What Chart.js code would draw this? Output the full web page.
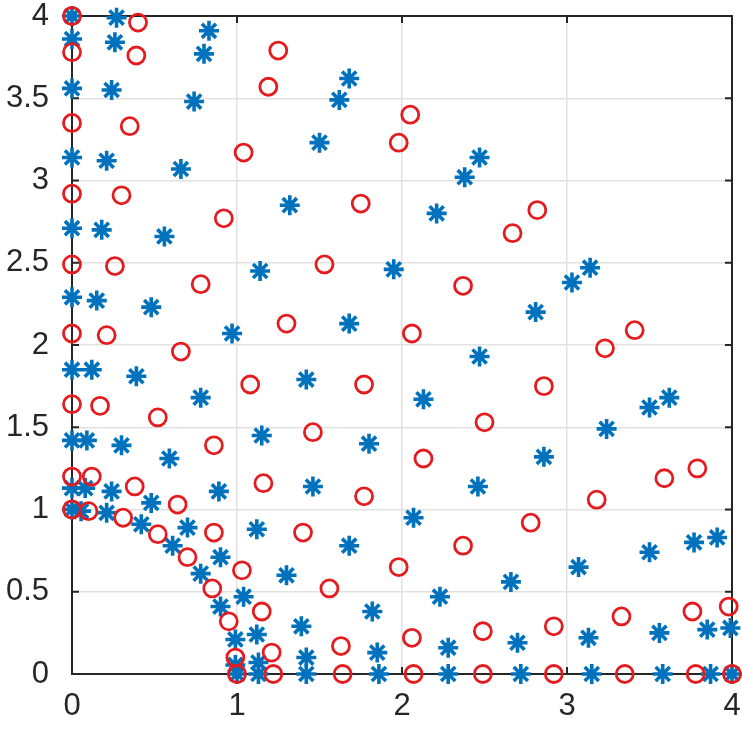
<!DOCTYPE html>
<html>
<head>
<meta charset="utf-8">
<script src="https://cdn.jsdelivr.net/npm/chart.js@4"></script>
<style>
  body { margin: 0; background: #fff; }
  #wrap { width: 742px; height: 732px; }
</style>
</head>
<body>
<div id="wrap"><canvas id="plot" width="742" height="732"></canvas></div>
<script>
// red circles, read ray by ray (9 rays x 9 points)
const circleX = [
    0, 0, 0, 0, 0, 0, 0, 0, 0,
    0.40, 0.39, 0.35, 0.30, 0.26, 0.21, 0.17, 0.12, 0.10,
    1.25, 1.19, 1.04, 0.92, 0.78, 0.66, 0.52, 0.38, 0.31,
    2.05, 1.98, 1.75, 1.53, 1.30, 1.08, 0.86, 0.64, 0.52,
    2.82, 2.67, 2.37, 2.06, 1.77, 1.46, 1.16, 0.86, 0.70,
    3.41, 3.23, 2.86, 2.50, 2.13, 1.77, 1.40, 1.03, 0.85,
    3.79, 3.59, 3.18, 2.78, 2.37, 1.98, 1.56, 1.15, 0.95,
    3.98, 3.76, 3.33, 2.92, 2.49, 2.06, 1.63, 1.21, 0.99,
    4.00, 3.78, 3.35, 2.92, 2.49, 2.07, 1.64, 1.22, 1.00
];
const circleY = [
    4.00, 3.78, 3.35, 2.92, 2.49, 2.07, 1.64, 1.20, 1.00,
    3.96, 3.76, 3.33, 2.91, 2.48, 2.06, 1.63, 1.20, 0.99,
    3.79, 3.57, 3.17, 2.77, 2.37, 1.96, 1.56, 1.14, 0.95,
    3.40, 3.23, 2.86, 2.49, 2.13, 1.76, 1.39, 1.03, 0.85,
    2.82, 2.68, 2.36, 2.07, 1.76, 1.47, 1.16, 0.86, 0.71,
    2.09, 1.98, 1.75, 1.53, 1.31, 1.08, 0.86, 0.63, 0.52,
    1.25, 1.19, 1.06, 0.92, 0.78, 0.65, 0.52, 0.38, 0.32,
    0.41, 0.38, 0.35, 0.29, 0.26, 0.22, 0.17, 0.13, 0.10,
    0, 0, 0, 0, 0, 0, 0, 0, 0
];

// blue stars (10 rays x 10 points)
const starX = [
    0, 0, 0, 0, 0, 0, 0, 0, 0, 0,
    0.27, 0.26, 0.24, 0.21, 0.18, 0.15, 0.12, 0.09, 0.08, 0.055,
    0.83, 0.80, 0.74, 0.66, 0.56, 0.48, 0.39, 0.30, 0.24, 0.21,
    1.68, 1.62, 1.50, 1.32, 1.14, 0.97, 0.78, 0.59, 0.48, 0.42,
    2.47, 2.38, 2.21, 1.95, 1.68, 1.42, 1.15, 0.89, 0.70, 0.61,
    3.14, 3.03, 2.81, 2.47, 2.13, 1.80, 1.46, 1.12, 0.90, 0.78,
    3.62, 3.50, 3.24, 2.86, 2.46, 2.07, 1.68, 1.30, 1.04, 0.90,
    3.91, 3.77, 3.50, 3.07, 2.66, 2.23, 1.82, 1.39, 1.12, 0.99,
    3.99, 3.85, 3.56, 3.13, 2.70, 2.28, 1.85, 1.42, 1.13, 0.99,
    4.00, 3.87, 3.58, 3.15, 2.72, 2.28, 1.86, 1.42, 1.13, 1.00
];
const starY = [
    4.00, 3.86, 3.56, 3.14, 2.71, 2.29, 1.85, 1.42, 1.13, 1.00,
    3.99, 3.84, 3.55, 3.12, 2.70, 2.27, 1.85, 1.42, 1.13, 0.99,
    3.91, 3.77, 3.48, 3.07, 2.66, 2.23, 1.81, 1.39, 1.11, 0.98,
    3.62, 3.49, 3.23, 2.85, 2.45, 2.07, 1.68, 1.31, 1.04, 0.91,
    3.14, 3.02, 2.80, 2.46, 2.13, 1.79, 1.45, 1.11, 0.89, 0.78,
    2.47, 2.38, 2.20, 1.93, 1.67, 1.40, 1.14, 0.88, 0.71, 0.61,
    1.68, 1.62, 1.49, 1.32, 1.14, 0.95, 0.78, 0.60, 0.47, 0.41,
    0.83, 0.80, 0.74, 0.65, 0.56, 0.47, 0.38, 0.29, 0.24, 0.21,
    0.28, 0.27, 0.25, 0.22, 0.19, 0.16, 0.13, 0.10, 0.07, 0.055,
    0, 0, 0, 0, 0, 0, 0, 0, 0, 0
];

const xTicks = [0, 1, 2, 3, 4];
const yTicks = [0, 0.5, 1, 1.5, 2, 2.5, 3, 3.5, 4];

const axisColor = "#262626";

function toPoints(xs, ys) {
    return xs.map((x, i) => ({ x: x, y: ys[i] }));
}

// box and inward tick marks, matlab style
const boxPlugin = {
    id: "box",
    beforeDatasetsDraw(chart) {
        const { ctx, chartArea: a, scales } = chart;
        const len = 7;
        ctx.save();
        ctx.strokeStyle = axisColor;
        ctx.lineWidth = 2;
        ctx.strokeRect(a.left, a.top, a.right - a.left, a.bottom - a.top);
        ctx.beginPath();
        xTicks.forEach(v => {
            const px = scales.x.getPixelForValue(v);
            ctx.moveTo(px, a.bottom); ctx.lineTo(px, a.bottom - len);
            ctx.moveTo(px, a.top); ctx.lineTo(px, a.top + len);
        });
        yTicks.forEach(v => {
            const py = scales.y.getPixelForValue(v);
            ctx.moveTo(a.left, py); ctx.lineTo(a.left + len, py);
            ctx.moveTo(a.right, py); ctx.lineTo(a.right - len, py);
        });
        ctx.stroke();
        ctx.restore();
    }
};

// fixed axis sizes, no label overflow padding
function fixSize(prop, size) {
    return s => {
        s[prop] = size;
        s.paddingTop = 0; s.paddingBottom = 0;
        s.paddingLeft = 0; s.paddingRight = 0;
    };
}

const tickFont = { family: "'Liberation Sans', Arial, sans-serif", size: 31, lineHeight: 1.0 };

new Chart(document.getElementById("plot").getContext("2d"), {
    type: "scatter",
    data: {
        datasets: [
            {
                label: "circles",
                data: toPoints(circleX, circleY),
                pointStyle: "circle",
                pointRadius: 8.5,
                pointBorderWidth: 2.8,
                borderColor: "rgb(228, 28, 32)",
                backgroundColor: "rgba(0,0,0,0)",
                clip: false
            },
            {
                label: "stars",
                data: toPoints(starX, starY),
                pointStyle: "star",
                pointRadius: 10,
                pointBorderWidth: 3.6,
                borderColor: "#0072BD",
                backgroundColor: "#0072BD",
                clip: false
            }
        ]
    },
    options: {
        responsive: false,
        animation: false,
        layout: { autoPadding: false, padding: { top: 16, right: 10, left: 0, bottom: 0 } },
        plugins: {
            legend: { display: false },
            tooltip: { enabled: false }
        },
        scales: {
            x: {
                min: 0,
                max: 4,
                afterFit: fixSize("height", 58),
                afterBuildTicks: s => { s.ticks = xTicks.map(v => ({ value: v })); },
                ticks: { font: tickFont, color: axisColor, padding: 17, maxRotation: 0,
                         callback: v => String(+v) },
                grid: { color: "#e1e1e1", lineWidth: 1.5, drawTicks: false },
                border: { display: false }
            },
            y: {
                min: 0,
                max: 4,
                afterFit: fixSize("width", 72),
                afterBuildTicks: s => { s.ticks = yTicks.map(v => ({ value: v })); },
                ticks: { font: tickFont, color: axisColor, padding: 23,
                         callback: v => String(+v) },
                grid: { color: "#e1e1e1", lineWidth: 1.5, drawTicks: false },
                border: { display: false }
            }
        }
    },
    plugins: [boxPlugin]
});
</script>
</body>
</html>
